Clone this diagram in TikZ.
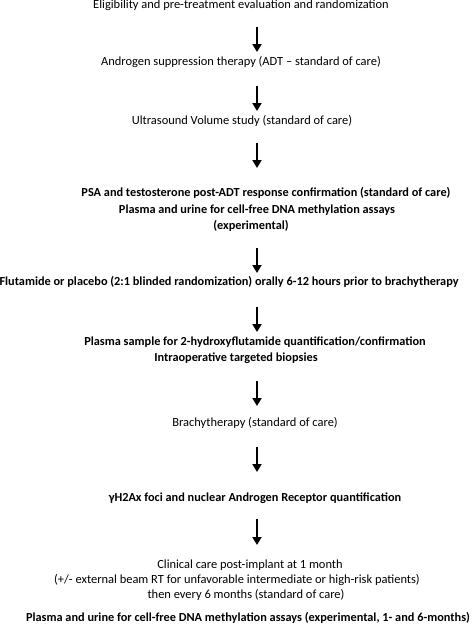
\documentclass[tikz,border=0pt]{standalone}
\usepackage{fontspec}
\setmainfont{Carlito}
\usetikzlibrary{arrows.meta}
\begin{document}
\begin{tikzpicture}[x=1pt,y=-1pt,
  txt/.style={inner sep=0pt,anchor=center,font=\fontsize{12.45}{14}\selectfont},
  btxt/.style={txt,font=\fontsize{12.3}{14}\selectfont\bfseries},
  arr/.style={line width=1.9pt,-{Triangle[width=9pt,length=8pt]}}]
\useasboundingbox (0,0) rectangle (474,643);
\fill[white] (0,0) rectangle (474,643);
\node[txt] (n1) at (241,5) {Eligibility and pre-treatment evaluation and randomization};
\node[txt] (n2) at (241,62) {Androgen suppression therapy (ADT – standard of care)};
\node[txt] (n3) at (242,121) {Ultrasound Volume study (standard of care)};
\node[btxt] (n4a) at (266,193) {PSA and testosterone post-ADT response confirmation (standard of care)};
\node[btxt] (n4b) at (257,210) {Plasma and urine for cell-free DNA methylation assays};
\node[btxt] (n4c) at (251,226) {(experimental)};
\node[btxt] (n5) at (229,282) {Flutamide or placebo (2:1 blinded randomization) orally 6-12 hours prior to brachytherapy};
\node[btxt] (n6a) at (255,342) {Plasma sample for 2-hydroxyflutamide quantification/confirmation};
\node[btxt] (n6b) at (236,358) {Intraoperative targeted biopsies};
\node[txt] (n7) at (255,423) {Brachytherapy (standard of care)};
\node[btxt] (n8) at (255,498) {γH2Ax foci and nuclear Androgen Receptor quantification};
\node[txt] (n9a) at (250,565) {Clinical care post-implant at 1 month};
\node[txt] (n9b) at (237,580) {(+/- external beam RT for unfavorable intermediate or high-risk patients)};
\node[txt] (n9c) at (246,595) {then every 6 months (standard of care)};
\node[btxt] (n10) at (248,618) {Plasma and urine for cell-free DNA methylation assays (experimental, 1- and 6-months)};
\coordinate (a1s) at (257,27); \coordinate (a1e) at (257,52);
\coordinate (a2s) at (257,86); \coordinate (a2e) at (257,111);
\coordinate (a3s) at (257,143); \coordinate (a3e) at (257,168);
\coordinate (a4s) at (257,248); \coordinate (a4e) at (257,273);
\coordinate (a5s) at (257,307); \coordinate (a5e) at (257,332);
\coordinate (a6s) at (257,381); \coordinate (a6e) at (257,406);
\coordinate (a7s) at (257,447); \coordinate (a7e) at (257,472);
\coordinate (a8s) at (257,519); \coordinate (a8e) at (257,545);
\foreach \i in {1,...,8} \draw[arr] (a\i s) -- (a\i e);
\end{tikzpicture}
\end{document}
